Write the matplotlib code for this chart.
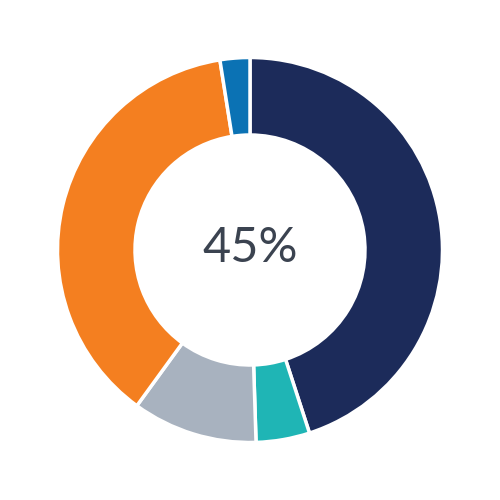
import matplotlib
matplotlib.use("Agg")
import matplotlib.pyplot as plt

labels = ["Navy", "Teal", "Gray", "Orange", "Blue"]
values = [45, 4.5, 10.5, 37.5, 2.5]
colors = ["#1c2b5a", "#1fb5b5", "#a8b2bf", "#f47f20", "#0b72b4"]
center_text = "45%"

fig, ax = plt.subplots(figsize=(5, 5), dpi=100)
fig.subplots_adjust(left=0, right=1, bottom=0, top=1)

ax.pie(
    values,
    colors=colors,
    startangle=90,
    counterclock=False,
    radius=0.77,
    wedgeprops=dict(width=0.31, edgecolor="white", linewidth=2.5),
)
ax.text(0, 0.01, center_text, ha="center", va="center",
        fontsize=35, color="#3b4350", family="Lato")
ax.set_xlim(-1, 1)
ax.set_ylim(-1, 1)
ax.set_aspect("equal")
ax.axis("off")

fig.savefig("out.png", dpi=100, facecolor="white")
